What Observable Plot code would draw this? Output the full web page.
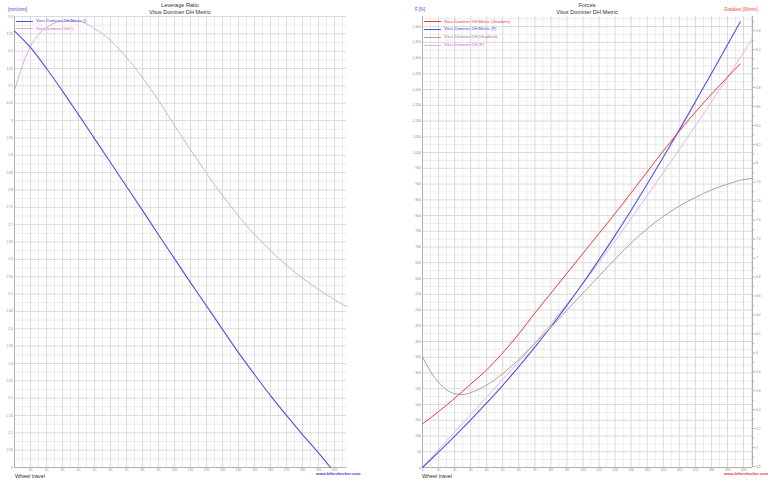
<!DOCTYPE html>
<html><head><meta charset="utf-8">
<script src="https://cdn.jsdelivr.net/npm/d3@7"></script>
<script src="https://cdn.jsdelivr.net/npm/@observablehq/plot@0.6"></script>
<style>
body{margin:0;background:#fff;font-family:"Liberation Sans",Arial,sans-serif;}
#wrap{position:relative;width:768px;height:480px;overflow:hidden;background:#fff;}
.panel{position:absolute;top:0;}
.abs{position:absolute;white-space:nowrap;line-height:1;}
.title{position:absolute;white-space:nowrap;text-align:center;transform:translateX(-50%);font-size:5.6px;line-height:7.5px;color:#333;}
.leg{position:absolute;white-space:nowrap;line-height:1;font-size:4.2px;display:flex;align-items:center;}
.sw{display:inline-block;width:17px;height:1px;margin-right:3px;}
</style></head><body><div id="wrap"></div><script>
// ---- tick labels ----
const travelTicksLeft = [10,20,30,40,50,60,70,80,90,100,110,120,130,140,150,160,170,180,190,200];
const travelTicksRight = [0,10,20,30,40,50,60,70,80,90,100,110,120,130,140,150,160,170,180,190,200];
const lrTicks = [2,2.05,2.1,2.15,2.2,2.25,2.3,2.35,2.4,2.45,2.5,2.55,2.6,2.65,2.7,2.75,2.8,2.85,2.9,2.95,3,3.05,3.1,3.15,3.2,3.25,3.3];
const forceTicks = [0,50,100,150,200,250,300,350,400,450,500,550,600,650,700,750,800,850,900,950,1000,1050,1100,1150,1200,1250,1300,1350,1400];
const gradTicks = [4.8,5,5.2,5.4,5.6,5.8,6,6.2,6.4,6.6,6.8,7,7.2,7.4,7.6,7.8,8,8.2,8.4,8.6,8.8,9,9.2,9.4];

// ---- leverage ratio series ----
const lrTravelMetric = [0,10,20,30,40,50,60,70,80,90,100,110,120,130,140,150,160,170,180,190,197.5];
const lrMetric = [3.258,3.211,3.150,3.085,3.017,2.948,2.879,2.810,2.741,2.671,2.602,2.533,2.466,2.398,2.331,2.268,2.207,2.150,2.095,2.042,2.0];
const lrTravelDH = [0,5,10,15,20,30,40,50,60,70,80,90,100,110,120,130,140,150,160,170,180,190,200,207.5];
const lrDH = [3.087,3.159,3.214,3.248,3.268,3.286,3.286,3.265,3.231,3.182,3.124,3.058,2.986,2.916,2.848,2.784,2.725,2.672,2.625,2.583,2.546,2.513,2.484,2.464];

// ---- force series ----
const fTravelMetric = [0,10,20,30,40,50,60,70,80,90,100,110,120,130,140,150,160,170,180,190,198];
const forceMetric = [0,49,99,151,205,261,320,382,447,515,586,660,737,817,900,985,1072,1161,1251,1342,1415];
const gradMetric = [5.25,5.38,5.52,5.67,5.82,6.00,6.20,6.42,6.63,6.84,7.05,7.26,7.47,7.69,7.91,8.13,8.34,8.54,8.73,8.91,9.05];
const fTravelDH = [0,10,20,30,40,50,60,70,80,90,100,110,120,130,140,150,160,170,180,190,200,205.6];
const forceDH = [0,57,113,168,223,279,336,395,456,519,584,651,720,791,863,936,1010,1085,1161,1238,1317,1362];
const gTravelDH = [0,5,10,15,20,25,30,40,50,60,70,80,90,100,110,120,130,140,150,160,170,180,190,200,205.6];
const gradDH = [5.96,5.80,5.69,5.61,5.57,5.56,5.58,5.66,5.78,5.93,6.10,6.27,6.45,6.63,6.81,6.99,7.16,7.31,7.44,7.55,7.64,7.72,7.78,7.83,7.84];

const rows = (xs, ys) => xs.map((t, i) => ({t, v: ys[i]}));

const C = {
  blue: "#5050e6", pinkL: "#dcaadc", red: "#e83c3c", gray: "#b49c9c", pinkR: "#e6b4e6",
  major: "#dadada", minor: "#ececec", axis: "#b0b0b0", tick: "#8a8a8a"
};
const font = "Liberation Sans, Arial, sans-serif";
const wrap = document.getElementById("wrap");

function place(svg, left) {
  const d = document.createElement("div");
  d.className = "panel"; d.style.left = left + "px";
  d.appendChild(svg); wrap.appendChild(d);
}
const ax = {label: null, tickSize: 0, tickPadding: 1.5, fill: C.tick, fontSize: 3.4};

// ---------- LEFT: Leverage ratio ----------
const lx = [0, 207.5], ly = [2.0, 3.3];
const left = Plot.plot({
  width: 384, height: 480, marginLeft: 14, marginRight: 38, marginTop: 16, marginBottom: 13,
  style: {background: "transparent", fontFamily: font, fontSize: "3.4px", color: C.tick},
  x: {domain: lx, label: null}, y: {domain: ly, label: null},
  marks: [
    Plot.gridX(d3.range(5, 207.5, 10), {stroke: C.minor, strokeOpacity: 1}),
    Plot.gridY(d3.range(2.025, 3.3, 0.05), {stroke: C.minor, strokeOpacity: 1}),
    Plot.gridX(travelTicksLeft, {stroke: C.major, strokeOpacity: 1}),
    Plot.gridY(lrTicks, {stroke: C.major, strokeOpacity: 1}),
    Plot.axisX(travelTicksLeft, {...ax}),
    Plot.axisY(lrTicks, {...ax, tickFormat: d => String(d)}),
    Plot.ruleX([lx[0]], {stroke: C.axis}),
    Plot.ruleY([ly[0]], {stroke: C.axis}),
    Plot.line(rows(lrTravelDH, lrDH), {x: "t", y: "v", stroke: C.pinkL, strokeWidth: 1, curve: "monotone-x"}),
    Plot.line(rows(lrTravelMetric, lrMetric), {x: "t", y: "v", stroke: C.blue, strokeWidth: 1.1, curve: "monotone-x"})
  ]
});
place(left, 0);

// ---------- RIGHT: Forces ----------
const rx = [0, 205.6], ry = [0, 1432], gy = [4.79, 9.55];
const right = Plot.plot({
  width: 384, height: 480, marginLeft: 38, marginRight: 16, marginTop: 16, marginBottom: 13,
  style: {background: "transparent", fontFamily: font, fontSize: "3.4px", color: C.tick},
  x: {domain: rx, label: null}, y: {domain: ry, label: null},
  marks: [
    Plot.gridX(d3.range(5, 205.6, 10), {stroke: C.minor, strokeOpacity: 1}),
    Plot.gridY(d3.range(25, 1432, 50), {stroke: C.minor, strokeOpacity: 1}),
    Plot.gridX(travelTicksRight, {stroke: C.major, strokeOpacity: 1}),
    Plot.gridY(forceTicks, {stroke: C.major, strokeOpacity: 1}),
    Plot.axisX(travelTicksRight, {...ax}),
    Plot.axisY(forceTicks, {...ax}),
    Plot.ruleX([rx[0]], {stroke: C.axis}),
    Plot.ruleX([rx[1]], {stroke: C.axis}),
    Plot.ruleY([ry[0]], {stroke: C.axis}),
    Plot.line(rows(fTravelDH, forceDH), {x: "t", y: "v", stroke: C.pinkR, strokeWidth: 1, curve: "monotone-x"}),
    Plot.line(rows(fTravelMetric, forceMetric), {x: "t", y: "v", stroke: C.blue, strokeWidth: 1.1, curve: "monotone-x"})
  ]
});
place(right, 384);

const right2 = Plot.plot({
  width: 384, height: 480, marginLeft: 38, marginRight: 16, marginTop: 16, marginBottom: 13,
  style: {background: "transparent", fontFamily: font, fontSize: "3.4px", color: C.tick},
  x: {domain: rx, axis: null, label: null}, y: {domain: gy, axis: null, label: null},
  marks: [
    Plot.axisY(d3.range(4.9, 9.55, 0.2), {anchor: "right", label: null, tickSize: 1.2, text: null, stroke: C.axis}),
    Plot.axisY(gradTicks, {anchor: "right", label: null, tickSize: 2.2, tickPadding: 1.2, fill: C.tick, fontSize: 3.4, stroke: C.axis, tickFormat: d => String(d)}),
    Plot.line(rows(gTravelDH, gradDH), {x: "t", y: "v", stroke: C.gray, strokeWidth: 1, curve: "monotone-x"}),
    Plot.line(rows(fTravelMetric, gradMetric), {x: "t", y: "v", stroke: C.red, strokeWidth: 1, curve: "monotone-x"})
  ]
});
place(right2, 384);

// ---------- texts ----------
function txt(html, css, cls = "abs") {
  const d = document.createElement("div");
  d.className = cls; d.innerHTML = html;
  Object.assign(d.style, css); wrap.appendChild(d);
}
txt("Leverage Ratio<br>Vitus Dominer DH Metric", {left: "180px", top: "1.5px"}, "title");
txt("Forces<br>Vitus Dominer DH Metric", {left: "587px", top: "1.5px"}, "title");
txt("[mm/mm]", {left: "8px", top: "7.8px", fontSize: "4.6px", color: "#4848e0"});
txt("F [N]", {left: "415px", top: "7.8px", fontSize: "4.6px", color: "#4848e0"});
txt("Gradient [N/mm]", {left: "724px", top: "7.8px", fontSize: "4.6px", color: "#e04444"});
txt("Wheel travel", {left: "15px", top: "473.5px", fontSize: "5.4px", color: "#333"});
txt("Wheel travel", {left: "422px", top: "473.5px", fontSize: "5.4px", color: "#333"});
txt("www.bikechecker.com", {left: "316px", top: "472px", fontSize: "4.2px", color: "#4040e0", fontWeight: "bold"});
txt("www.bikechecker.com", {left: "724px", top: "472px", fontSize: "4.2px", color: "#e83c3c", fontWeight: "bold"});

function legend(x, y, items) {
  items.forEach((it, i) => {
    const d = document.createElement("div");
    d.className = "leg";
    d.style.left = x + "px"; d.style.top = (y + i * 7.9 - 2.5) + "px"; d.style.height = "5px";
    d.style.color = it.text;
    d.innerHTML = `<span class="sw" style="background:${it.line}"></span><span>${it.label}</span>`;
    wrap.appendChild(d);
  });
}
legend(16, 21, [
  {label: "Vitus Dominer DH Metric ()", line: C.blue, text: "#4a4ae0"},
  {label: "Vitus Dominer DH ()", line: C.pinkL, text: "#d85ad8"}
]);
legend(424, 21.7, [
  {label: "Vitus Dominer DH Metric (Gradient)", line: C.red, text: "#e04444"},
  {label: "Vitus Dominer DH Metric (F)", line: C.blue, text: "#4a4ae0"},
  {label: "Vitus Dominer DH (Gradient)", line: C.gray, text: "#a07c7c"},
  {label: "Vitus Dominer DH (F)", line: C.pinkR, text: "#d85ad8"}
]);
</script></body></html>
